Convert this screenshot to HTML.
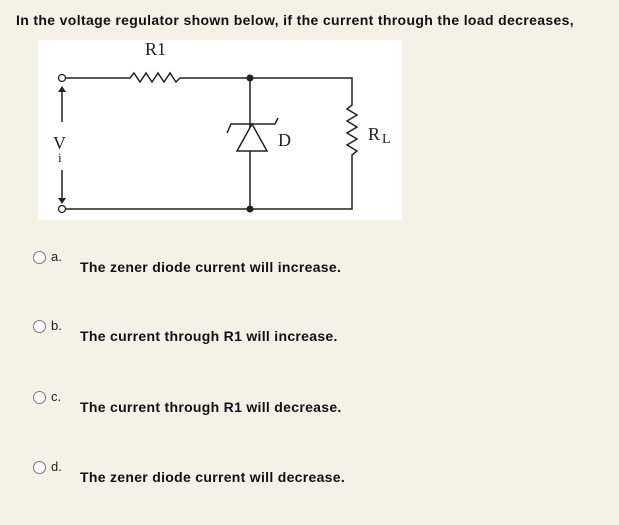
<!DOCTYPE html>
<html><head><style>
body{margin:0;width:619px;height:525px;background:#f4f1e7;font-family:"Liberation Sans",sans-serif;position:relative;overflow:hidden}
.t{position:absolute;left:16px;top:12px;font-size:14px;letter-spacing:0.35px;font-weight:bold;color:#111;white-space:nowrap}
.o{position:absolute;left:33px;font-size:13px;color:#222}
.o .c{position:absolute;left:0;top:2px;width:11px;height:11px;border:1px solid #777;border-radius:50%;background:#fff}
.o .l{position:absolute;left:18px;top:0}
.o .x{position:absolute;left:47px;top:10px;font-size:14px;letter-spacing:0.3px;font-weight:bold;white-space:nowrap;color:#111}
</style></head><body>
<div class="t">In the voltage regulator shown below, if the current through the load decreases,</div>
<svg style="position:absolute;left:0;top:0" width="619" height="525">
<rect x="38" y="40" width="364" height="180" fill="#fff"/>
<g stroke="#222" stroke-width="1.5" fill="none">
<path d="M65 78H130l4-5 6 9 6-9 6 9 6-9 6 9 6-9 6 9 4-4H352V105l-5 4 10 6-10 6 10 6-10 6 10 6-10 6 10 6-5 4V209H65"/>
<path d="M250 78V209"/>
<path d="M237 151H267L252 124Z" fill="#fff"/>
<path d="M227 133l4-9H275l3-6"/>
<path d="M62 122V92M62 170V198"/>
</g>
<circle cx="62" cy="78" r="3.5" fill="#fff" stroke="#222" stroke-width="1.3"/>
<circle cx="62" cy="209" r="3.5" fill="#fff" stroke="#222" stroke-width="1.3"/>
<path d="M58 92L62 86 66 92Z M58 198L62 204 66 198Z" fill="#222"/>
<circle cx="250" cy="78" r="3.5" fill="#222"/><circle cx="250" cy="209" r="3.5" fill="#222"/>
<g font-family="Liberation Serif,serif" font-size="18" fill="#222">
<text x="145" y="55">R1</text>
<text x="278" y="146">D</text>
<text x="368" y="140">R</text><text x="382" y="143" font-size="14">L</text>
<text x="53" y="149" font-size="18">V</text><text x="58" y="162" font-size="13">i</text>
</g>
</svg>
<div class="o" style="top:249px"><span class="c"></span><span class="l">a.</span><span class="x">The zener diode current will increase.</span></div>
<div class="o" style="top:318px"><span class="c"></span><span class="l">b.</span><span class="x">The current through R1 will increase.</span></div>
<div class="o" style="top:389px"><span class="c"></span><span class="l">c.</span><span class="x">The current through R1 will decrease.</span></div>
<div class="o" style="top:459px"><span class="c"></span><span class="l">d.</span><span class="x">The zener diode current will decrease.</span></div>
</body></html>
